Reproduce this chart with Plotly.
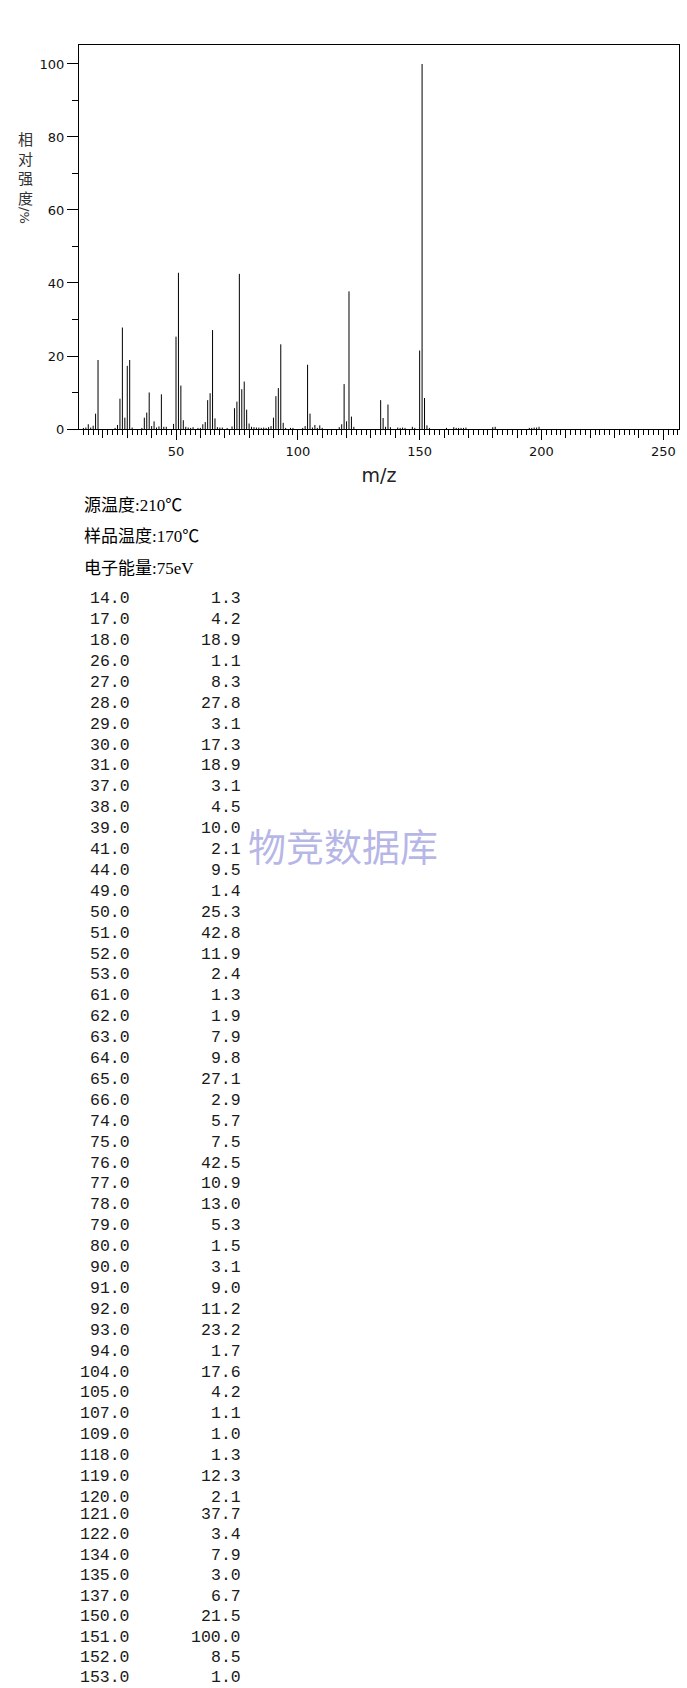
import plotly.graph_objects as go

# ---- data: peak list (table, intensity >= 1.0) ----
mz_table = [14, 17, 18, 26, 27, 28, 29, 30, 31, 37, 38, 39, 41, 44, 49, 50, 51, 52, 53,
            61, 62, 63, 64, 65, 66, 74, 75, 76, 77, 78, 79, 80, 90, 91, 92, 93, 94,
            104, 105, 107, 109, 118, 119, 120, 121, 122, 134, 135, 137, 150, 151, 152, 153]
int_table = [1.3, 4.2, 18.9, 1.1, 8.3, 27.8, 3.1, 17.3, 18.9, 3.1, 4.5, 10.0, 2.1, 9.5, 1.4,
             25.3, 42.8, 11.9, 2.4, 1.3, 1.9, 7.9, 9.8, 27.1, 2.9, 5.7, 7.5, 42.5, 10.9, 13.0,
             5.3, 1.5, 3.1, 9.0, 11.2, 23.2, 1.7, 17.6, 4.2, 1.1, 1.0, 1.3, 12.3, 2.1, 37.7,
             3.4, 7.9, 3.0, 6.7, 21.5, 100.0, 8.5, 1.0]

# ---- minor peaks (< 1 %), estimated from the spectrum ----
mz_minor = [12, 13, 15, 16, 25, 32, 36, 40, 42, 43, 45, 46, 54, 55, 56, 57, 59, 60,
            67, 68, 69, 71, 73, 81, 82, 83, 84, 85, 86, 87, 88, 89, 95, 97, 98, 102, 103,
            106, 108, 110, 117, 123, 136, 138, 141, 142, 143, 144, 147, 148, 154, 161,
            164, 165, 166, 167, 168, 169, 180, 181, 195, 196, 197, 198, 199]
int_minor = [0.3, 0.4, 0.4, 0.9, 0.3, 0.4, 0.3, 0.8, 0.4, 0.7, 0.6, 0.6, 0.6, 0.4, 0.3, 0.5,
             0.3, 0.3, 0.5, 0.4, 0.4, 0.3, 0.7, 0.6, 0.5, 0.4, 0.4, 0.3, 0.4, 0.3, 0.5, 0.8,
             0.3, 0.3, 0.3, 0.3, 0.8, 0.4, 0.3, 0.3, 0.5, 0.6, 0.6, 0.5, 0.4, 0.3, 0.4, 0.3,
             0.6, 0.3, 0.3, 0.3, 0.5, 0.3, 0.3, 0.3, 0.3, 0.4, 0.5, 0.6, 0.3, 0.3, 0.4, 0.4, 0.6]

x_major_ticks = [50, 100, 150, 200, 250]
x_mid_ticks = list(range(10, 251, 10))
y_ticks = [0, 20, 40, 60, 80, 100]

header_lines = ["源温度:210℃", "样品温度:170℃", "电子能量:75eV"]
y_title = "相对强度"
y_title_unit = "/%"
x_title = "m/z"
watermark = "物竞数据库"

# ---- layout geometry (pixels) ----
W, H = 687, 1688
PL, PR, PT, PB = 79, 679, 45, 429


def px_x(x):
    return (x - PL) / (PR - PL)


def px_y(y):
    return (PB - y) / (PB - PT)


peaks = sorted(zip(mz_table + mz_minor, int_table + int_minor))
seg_x, seg_y = [], []
for m, v in peaks:
    seg_x += [m, m, None]
    seg_y += [0, v, None]

fig = go.Figure()
fig.add_trace(go.Scatter(x=seg_x, y=seg_y, mode="lines",
                         line=dict(color="black", width=1),
                         showlegend=False, hoverinfo="x+y"))
fig.add_trace(go.Scatter(x=[], y=[], xaxis="x2", showlegend=False))

XR = [10.19, 256.44]
tick_font = dict(family="DejaVu Sans", size=13, color="#111")

fig.update_layout(
    width=W, height=H,
    margin=dict(l=PL, r=W - PR, t=PT, b=H - PB, pad=0),
    paper_bgcolor="white", plot_bgcolor="white",
    xaxis=dict(range=XR, tickmode="array", tickvals=x_major_ticks,
               ticktext=[str(v) for v in x_major_ticks],
               ticks="outside", ticklen=10, tickwidth=1, tickcolor="black",
               showline=True, linecolor="black", linewidth=1, mirror=True,
               showgrid=False, zeroline=False, tickfont=tick_font,
               minor=dict(tick0=0, dtick=2, ticks="outside", ticklen=5,
                          tickwidth=1, tickcolor="black", showgrid=False),
               title=dict(text=x_title, font=dict(family="DejaVu Sans", size=19, color="#222"),
                          standoff=11)),
    xaxis2=dict(range=XR, overlaying="x", anchor="y", side="bottom",
                tickmode="array", tickvals=x_mid_ticks, ticks="outside", ticklen=8,
                tickwidth=1, tickcolor="black", showticklabels=False,
                showline=False, showgrid=False, zeroline=False),
    yaxis=dict(range=[0, 105.2], tickmode="array", tickvals=y_ticks,
               ticks="outside", ticklen=11, tickwidth=1, tickcolor="black",
               showline=True, linecolor="black", linewidth=1, mirror=True,
               showgrid=False, zeroline=False, tickfont=tick_font,
               minor=dict(tick0=0, dtick=10, ticks="outside", ticklen=6,
                          tickwidth=1, tickcolor="black", showgrid=False)),
)

ann = []
# y-axis title (vertical writing)
ann.append(dict(text="<br>".join(list(y_title)), x=px_x(25), y=px_y(168),
                xref="paper", yref="paper", showarrow=False,
                xanchor="center", yanchor="middle",
                font=dict(family="Noto Sans CJK SC", size=15, color="#333")))
ann.append(dict(text=y_title_unit, x=px_x(25), y=px_y(215), textangle=90,
                xref="paper", yref="paper", showarrow=False,
                xanchor="center", yanchor="middle",
                font=dict(family="DejaVu Sans", size=13, color="#333")))

# header lines
header_y = [505, 536.7, 568.3]
for txt, yy in zip(header_lines, header_y):
    ann.append(dict(text=txt, x=px_x(82), y=px_y(yy), xref="paper", yref="paper",
                    showarrow=False, xanchor="left", yanchor="middle",
                    font=dict(family="Liberation Serif, Noto Sans CJK SC", size=17,
                              color="black")))

# peak table
for i, (m, v) in enumerate(zip(mz_table, int_table)):
    if i <= 43:
        yy = 598.7 + i * 20.9
    else:
        yy = 1514 + (i - 44) * 20.5
    font = dict(family="Liberation Mono", size=16.5, color="#1a1a1a")
    ann.append(dict(text=f"{m:.1f}", x=px_x(132), y=px_y(yy), xref="paper", yref="paper",
                    showarrow=False, xanchor="right", yanchor="middle", font=font))
    ann.append(dict(text=f"{v:.1f}", x=px_x(243), y=px_y(yy), xref="paper", yref="paper",
                    showarrow=False, xanchor="right", yanchor="middle", font=font))

# watermark
ann.append(dict(text=watermark, x=px_x(343), y=px_y(844), xref="paper", yref="paper",
                showarrow=False, xanchor="center", yanchor="middle",
                font=dict(family="Noto Sans CJK SC", size=38, color="rgba(120,120,210,0.55)")))

fig.update_layout(annotations=ann)

fig.write_html("out.html", config={"displayModeBar": False},
               post_script="document.body.style.margin='0';")
